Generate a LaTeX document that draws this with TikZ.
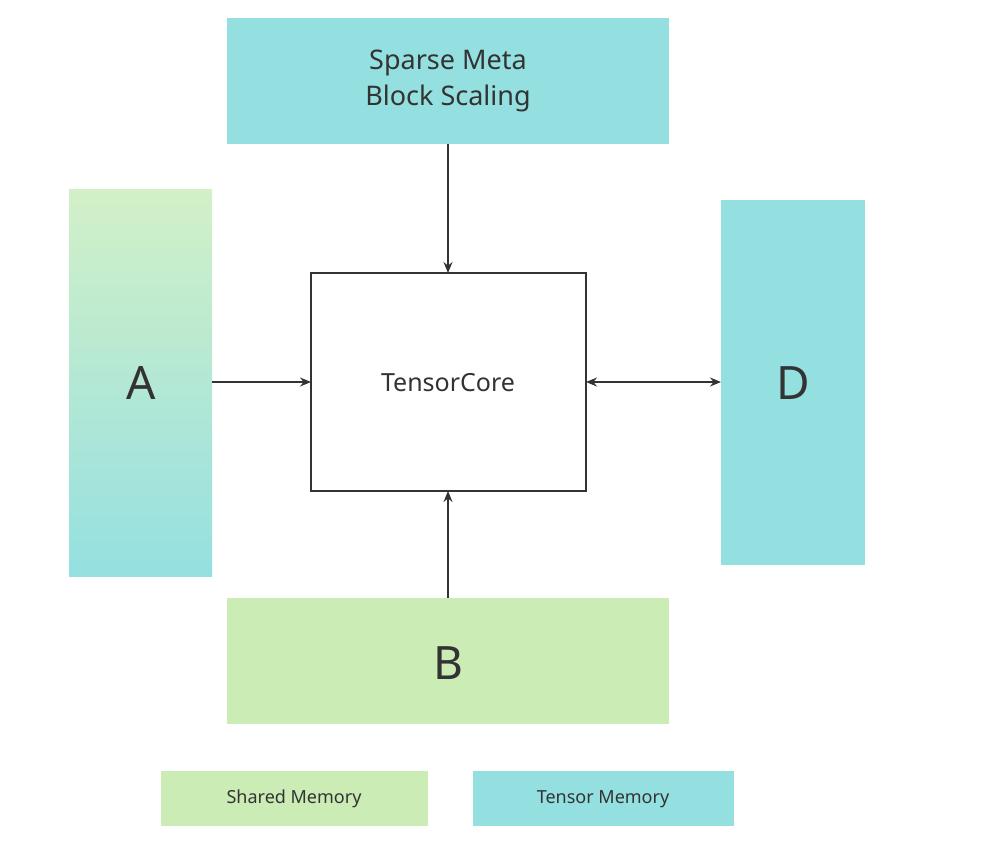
\documentclass[tikz,border=0pt]{standalone}
\usepackage{fontspec}
\setmainfont{Noto Sans}
\usetikzlibrary{arrows.meta}
\definecolor{teal}{HTML}{94E0E0}
\definecolor{grn}{HTML}{CBEDB5}
\definecolor{grnl}{HTML}{D3F0C8}
\definecolor{txt}{HTML}{333333}
\begin{document}
\begin{tikzpicture}[x=1pt,y=-1pt,
  box/.style={draw=none,inner sep=0pt,text=txt,align=center},
  arr/.style={draw=txt,line width=1.5pt,-{Stealth[length=11pt,width=9pt]}}]
\useasboundingbox (0,0) rectangle (991,849);
\fill[teal] (227,18) rectangle (669,144);
\node[box,font=\fontsize{27}{36}\selectfont] (s) at (448,81) {Sparse Meta\\Block Scaling};
\coordinate (sb) at (448,144);
\shade[top color=grnl,bottom color=teal] (69,189) rectangle (212,576);
\node[box,font=\fontsize{46}{50}\selectfont] (a) at (141,383) {A};
\coordinate (ar) at (212,382);
\draw[txt,line width=1.2pt,fill=white] (311,273) rectangle (586,491);
\node[box,font=\fontsize{25}{30}\selectfont] (t) at (448,383) {TensorCore};
\coordinate (tt) at (448,273); \coordinate (tb) at (448,491);
\coordinate (tl) at (311,382); \coordinate (tr) at (586,382);
\fill[teal] (721,200) rectangle (865,565);
\node[box,font=\fontsize{46}{50}\selectfont] (d) at (793,383) {D};
\coordinate (dl) at (721,382);
\fill[grn] (227,598) rectangle (669,724);
\node[box,font=\fontsize{46}{50}\selectfont] (b) at (448,663) {B};
\coordinate (bt) at (448,598);
\fill[grn] (161,771) rectangle (428,826);
\node[box,font=\fontsize{18}{22}\selectfont] (l1) at (294,799) {Shared Memory};
\fill[teal] (473,771) rectangle (734,826);
\node[box,font=\fontsize{18}{22}\selectfont] (l2) at (603,799) {Tensor Memory};
\draw[arr] (sb) -- (tt);
\draw[arr] (ar) -- (tl);
\draw[arr,{Stealth[length=11pt,width=9pt]}-{Stealth[length=11pt,width=9pt]}] (tr) -- (dl);
\draw[arr] (bt) -- (tb);
\end{tikzpicture}
\end{document}
